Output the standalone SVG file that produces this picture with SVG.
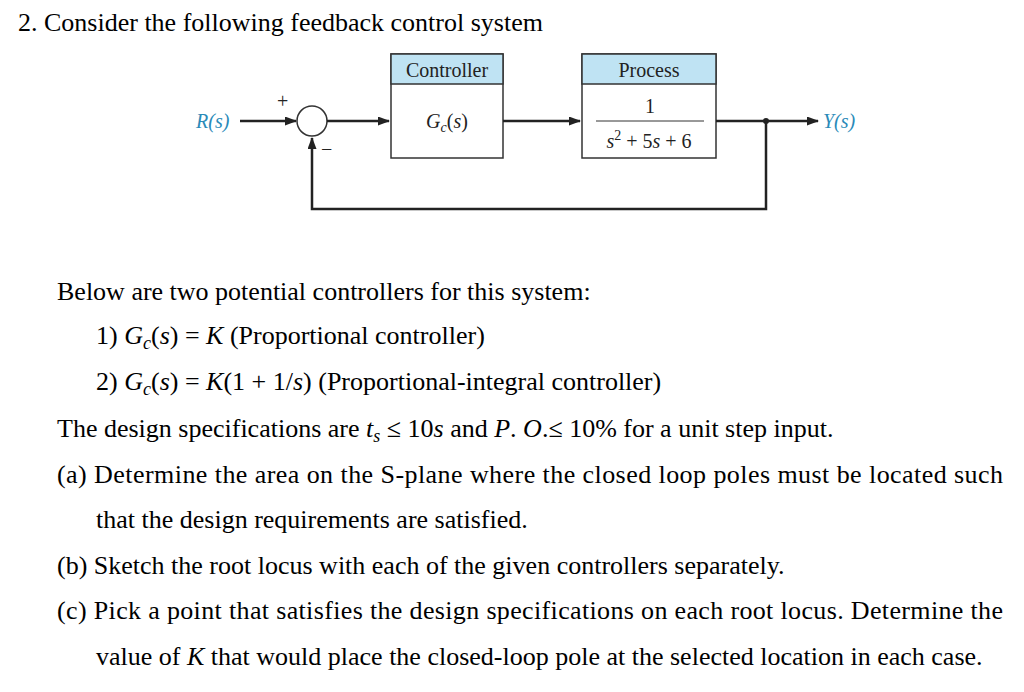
<svg xmlns="http://www.w3.org/2000/svg" width="1024" height="692" viewBox="0 0 1024 692">
<style>
.t{font-family:"Liberation Serif",serif;font-size:26px;fill:#000}
.d{font-family:"Liberation Serif",serif;font-size:20px;fill:#222}
.b{fill:#fff;stroke:#333;stroke-width:1.5}
.h{fill:#bfe3f3;stroke:#333;stroke-width:1.5}
.w{stroke:#222;stroke-width:2.5;fill:none}
.blue{font-family:"Liberation Serif",serif;font-size:20px;font-style:italic;fill:#2a8ab8}
</style>
<defs><marker id="a" markerWidth="12" markerHeight="9" refX="11" refY="4.5" orient="auto" markerUnits="userSpaceOnUse"><path d="M0,0L12,4.5L0,9z" fill="#222"/></marker></defs>
<rect width="1024" height="692" fill="#fff"/>
<text class="t" x="18" y="31">2.  Consider the following feedback control system</text>
<g id="controller"><rect class="b" x="391" y="54" width="112" height="104"/><rect class="h" x="391" y="54" width="112" height="30"/><text class="d" x="447" y="77" text-anchor="middle">Controller</text><text class="d" x="447" y="128" text-anchor="middle"><tspan font-style="italic">G</tspan><tspan font-style="italic" font-size="14" dy="4">c</tspan><tspan dy="-4">(</tspan><tspan font-style="italic">s</tspan>)</text></g>
<g id="process"><rect class="b" x="582" y="54" width="134" height="104"/><rect class="h" x="582" y="54" width="134" height="30"/><text class="d" x="649" y="77" text-anchor="middle">Process</text><text class="d" x="650" y="113" text-anchor="middle">1</text><line x1="596" y1="121" x2="704" y2="121" stroke="#333" stroke-width="1"/><text class="d" x="649" y="148" text-anchor="middle"><tspan font-style="italic">s</tspan><tspan font-size="14" dy="-8">2</tspan><tspan dy="8"> + 5</tspan><tspan font-style="italic">s</tspan> + 6</text></g>
<g id="sum"><circle cx="312" cy="121" r="15" fill="#fff" stroke="#333" stroke-width="1.5"/><text class="d" x="277" y="108">+</text><text class="d" x="321" y="156">−</text></g>
<g id="labels"><text class="blue" x="196" y="128">R(s)</text><text class="blue" x="823" y="128">Y(s)</text></g>
<g id="connectors">
<line class="w" x1="240" y1="121" x2="296" y2="121" marker-end="url(#a)"/>
<line class="w" x1="327" y1="121" x2="389" y2="121" marker-end="url(#a)"/>
<line class="w" x1="503" y1="121" x2="580" y2="121" marker-end="url(#a)"/>
<line class="w" x1="716" y1="121" x2="818" y2="121" marker-end="url(#a)"/>
<circle cx="766" cy="121" r="3" fill="#222"/>
<path class="w" d="M766,121V209H312V138" marker-end="url(#a)"/>
</g>
<text class="t" x="57" y="300">Below are two potential controllers for this system:</text>
<text class="t" x="96" y="344">1)  <tspan font-style="italic">G</tspan><tspan font-style="italic" font-size="18" dy="5">c</tspan><tspan dy="-5">(</tspan><tspan font-style="italic">s</tspan>) = <tspan font-style="italic">K</tspan> (Proportional controller)</text>
<text class="t" x="96" y="390">2)  <tspan font-style="italic">G</tspan><tspan font-style="italic" font-size="18" dy="5">c</tspan><tspan dy="-5">(</tspan><tspan font-style="italic">s</tspan>) = <tspan font-style="italic">K</tspan>(1 + 1/<tspan font-style="italic">s</tspan>) (Proportional-integral controller)</text>
<text class="t" x="57" y="437">The design specifications are <tspan font-style="italic">t</tspan><tspan font-style="italic" font-size="18" dy="5">s</tspan><tspan dy="-5"> ≤ 10</tspan><tspan font-style="italic">s</tspan> and <tspan font-style="italic">P</tspan>. <tspan font-style="italic">O</tspan>.≤ 10% for a unit step input.</text>
<text class="t" x="57" y="483" textLength="946" lengthAdjust="spacing">(a) Determine the area on the S-plane where the closed loop poles must be located such</text>
<text class="t" x="96" y="528">that the design requirements are satisfied.</text>
<text class="t" x="57" y="574">(b) Sketch the root locus with each of the given controllers separately.</text>
<text class="t" x="57" y="619" textLength="946" lengthAdjust="spacing">(c) Pick a point that satisfies the design specifications on each root locus. Determine the</text>
<text class="t" x="96" y="665">value of <tspan font-style="italic">K</tspan> that would place the closed-loop pole at the selected location in each case.</text>
</svg>
